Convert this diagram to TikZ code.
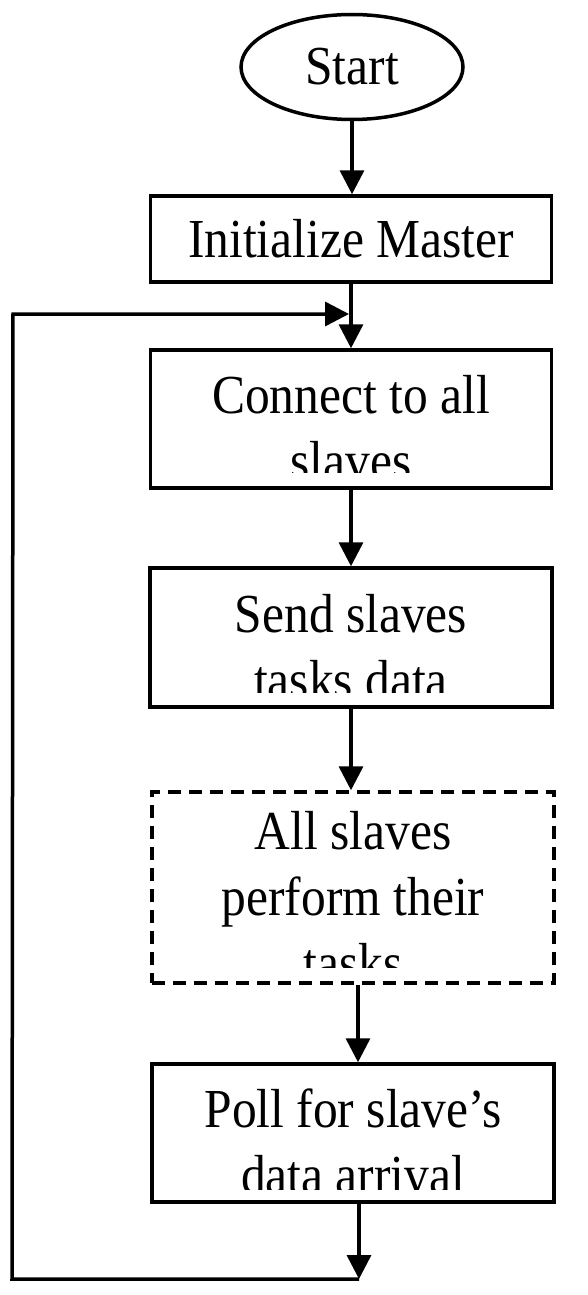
\documentclass[tikz,border=0pt]{standalone}
\usepackage{fontspec}
\setmainfont{Liberation Serif}[FakeStretch=0.9]
\usetikzlibrary{shapes.geometric,arrows.meta}

\tikzset{
    boite/.style={draw,rectangle,line width=3.5pt,minimum width=401pt,inner sep=0pt},
    fleche/.style={line width=3.5pt,-{Triangle[length=24pt,width=24pt]}},
    texte coupe/.style n args={3}{path picture={
        \clip ([yshift=#2]path picture bounding box.south west) rectangle (path picture bounding box.north east);
        \node[align=center,anchor=north,inner sep=0pt] (#1) at ([yshift=-7pt]path picture bounding box.north) {#3};
    }},
}

\begin{document}
\begin{tikzpicture}[x=1pt,y=-1pt,font=\fontsize{55}{66}\selectfont]
                \useasboundingbox (0,0) rectangle (587,1295);

                \node[draw,ellipse,line width=3.5pt,minimum width=222pt,minimum height=105pt,inner sep=0pt] (S) at (352,67) {Start};
                \node[boite,minimum height=86pt] (IM) at (351,239) {Initialize Master};

                \node[boite,minimum height=138pt,texte coupe={CSt}{16pt}{Connect to all\\slaves}] (CS) at (351,419) {};
                \node[boite,minimum width=402pt,minimum height=139pt,texte coupe={STt}{15pt}{Send slaves\\tasks data}] (ST) at (351,637.5) {};

                \node[boite,dash pattern=on 13pt off 8pt,minimum width=402pt,minimum height=191pt,texte coupe={PTt}{16pt}{All slaves\\perform their\\tasks}] (PT) at (353,887.5) {};

                \node[boite,minimum width=402pt,minimum height=138pt,texte coupe={PDt}{13pt}{Poll for slave’s\\data arrival}] (PD) at (353,1133) {};

                \coordinate (R) at (349,314);
                \coordinate (B) at (359,1279);
                \coordinate (BG) at (12,1279);
                \coordinate (HG) at (13,314);

                \draw[fleche] (S) -- (S |- IM.north);
                \draw[fleche] (IM) -- (IM |- CS.north);
                \draw[fleche] (CS) -- (CS |- ST.north);
                \draw[fleche] (ST) -- (ST |- PT.north);
                \draw[fleche] ([xshift=5pt]PT.south) -- ([xshift=5pt]PT.south |- PD.north);
                \draw[fleche] (B |- PD.south) -- (B);

                \draw[fleche] (B) -- (BG) -- (HG) -- (R);
            \end{tikzpicture}
\end{document}
